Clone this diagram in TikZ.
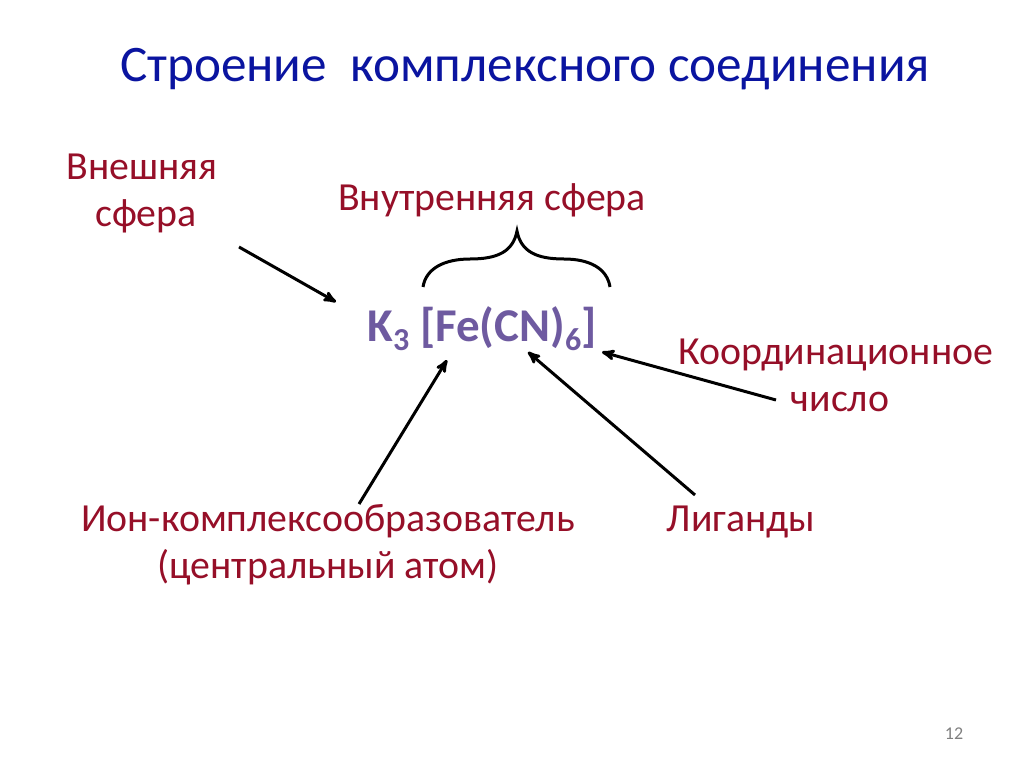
\documentclass[tikz,border=0pt]{standalone}
\usepackage{fontspec}
\setmainfont{Carlito}
\usetikzlibrary{arrows}
\usetikzlibrary{calc}
\definecolor{titleblue}{RGB}{10,20,160}
\definecolor{labelred}{RGB}{150,15,40}
\definecolor{formula}{RGB}{110,90,160}
\newcommand{\subnum}[1]{\raisebox{-9pt}{\fontsize{32}{36}\selectfont #1}}
\begin{document}
\begin{tikzpicture}[x=1pt,y=-1pt,>=stealth',thick,label node/.style={text=labelred,font=\fontsize{39.8}{47}\selectfont,align=center,inner sep=0pt},arrow line/.style={->,line width=3pt}]
				\useasboundingbox[fill=white] (0,0) rectangle (1024,767);

				\node[text=titleblue,font=\fontsize{51.2}{60}\selectfont,inner sep=0pt] (T) at (525,69) {Строение\ \ комплексного соединения};
				\node[label node] (V) at (142,193) {Внешняя\\\hspace*{8pt}сфера};
				\node[label node] (S) at (492,200) {Внутренняя сфера};
				\node[text=formula,font=\fontsize{47}{56}\selectfont\bfseries,inner sep=0pt] (F) at (482,329) {K\subnum{3} [Fe(CN)\subnum{6}]};
				\node[label node] (K) at (836,375) {Координационное\\\hspace*{8pt}число};
				\node[label node] (I) at (328,545) {Ион-комплексообразователь\\(центральный атом)};
				\node[label node] (L) at (741,522) {Лиганды};
				\node[text=gray,font=\fontsize{18}{20}\selectfont,inner sep=0pt] (N) at (954,734) {12};

				\coordinate (a1) at (239,247);
				\coordinate (a2) at (336,302);
				\coordinate (b1) at (359,504);
				\coordinate (b2) at (447,360);
				\coordinate (c1) at (695,495);
				\coordinate (c2) at (528,352);
				\coordinate (d1) at (776,400);
				\coordinate (d2) at (602,352);
				\draw[arrow line] (a1) -- (a2);
				\draw[arrow line] (b1) -- (b2);
				\draw[arrow line] (c1) -- (c2);
				\draw[arrow line] (d1) -- (d2);

				\coordinate (br1) at (423,287);
				\coordinate (br2) at (517,231);
				\coordinate (br3) at (610,287);
				\draw[line width=3pt] (br1) .. controls (426,268) and (445,259) .. (470,259) .. controls (497,259) and (513,252) .. (br2) .. controls (521,252) and (537,259) .. (564,259) .. controls (589,259) and (607,268) .. (br3);

\end{tikzpicture}
\end{document}
